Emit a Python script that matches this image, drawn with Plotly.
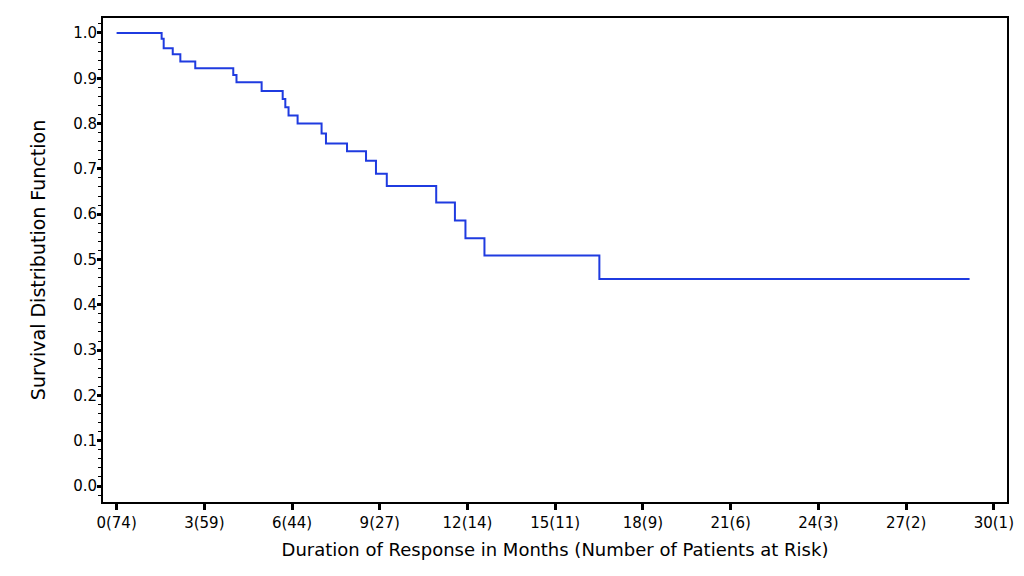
import plotly.graph_objects as go

# Kaplan-Meier step data
event_times = [0, 1.54, 1.61, 1.92, 2.18, 2.69, 3.99, 4.10, 4.96, 5.68, 5.77, 5.88,
               6.19, 7.01, 7.16, 7.88, 8.53, 8.87, 9.24, 10.93, 11.57, 11.93, 12.58,
               16.51, 29.17]
survival = [1.0, 0.987, 0.966, 0.953, 0.937, 0.922, 0.907, 0.891, 0.872, 0.854,
            0.836, 0.818, 0.800, 0.778, 0.756, 0.739, 0.718, 0.689, 0.662, 0.626,
            0.586, 0.547, 0.509, 0.457, 0.457]

x_tick_vals = [0, 3, 6, 9, 12, 15, 18, 21, 24, 27, 30]
x_tick_text = ["0(74)", "3(59)", "6(44)", "9(27)", "12(14)", "15(11)", "18(9)",
               "21(6)", "24(3)", "27(2)", "30(1)"]
y_tick_vals = [0.0, 0.1, 0.2, 0.3, 0.4, 0.5, 0.6, 0.7, 0.8, 0.9, 1.0]

fig = go.Figure()
fig.add_trace(go.Scatter(
    x=event_times, y=survival, mode="lines", line_shape="hv",
    line=dict(color="#1f3be0", width=2), showlegend=False, hoverinfo="skip"))

font_family = "DejaVu Sans"
fig.update_layout(
    width=1024, height=576,
    margin=dict(l=103, r=10, t=18, b=74),
    paper_bgcolor="white", plot_bgcolor="white",
    font=dict(family=font_family, size=15, color="black"),
    xaxis=dict(
        range=[-0.465, 30.45], tickmode="array", tickvals=x_tick_vals,
        ticktext=x_tick_text, ticks="outside", ticklen=6, tickwidth=3,
        tickcolor="black", showline=True, linecolor="black", linewidth=2,
        mirror=True, showgrid=False, zeroline=False,
        title=dict(text="Duration of Response in Months (Number of Patients at Risk)",
                   font=dict(size=18), standoff=12),
        tickfont=dict(size=15)),
    yaxis=dict(
        range=[-0.0353, 1.033], tickmode="array", tickvals=y_tick_vals,
        tickformat=".1f", ticks="outside", ticklen=4, tickwidth=3,
        tickcolor="black", showline=True, linecolor="black", linewidth=2,
        mirror=True, showgrid=False, zeroline=False, ticklabelstandoff=-3,
        minor=dict(dtick=0.02, ticks="outside", ticklen=3, tickwidth=1,
                   tickcolor="black", showgrid=False),
        title=dict(text="Survival Distribution Function", font=dict(size=19),
                   standoff=22),
        tickfont=dict(size=15)),
)

fig.write_html("out.html")
